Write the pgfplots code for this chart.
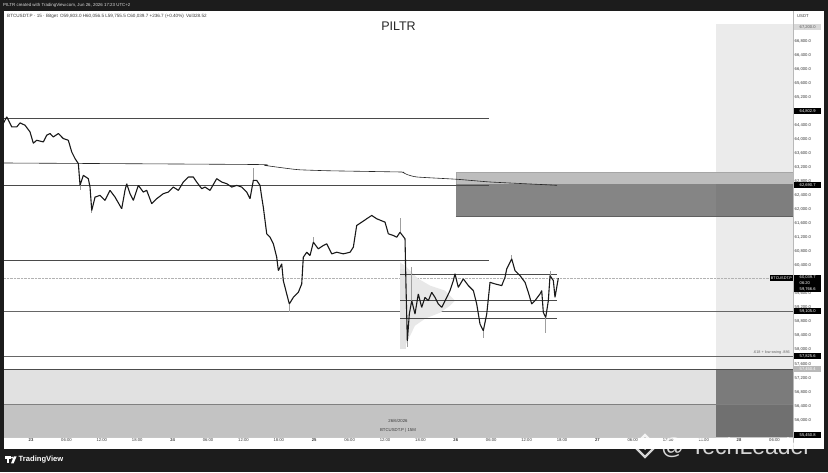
\documentclass[border=0pt]{standalone}
\usepackage{pgfplots}
\pgfplotsset{compat=1.18}
\usepackage{fontspec}
\setmainfont{Liberation Sans}
\definecolor{tvdark}{HTML}{1C1C1C}
\definecolor{tvtext}{HTML}{3A3A3A}
\definecolor{zone}{HTML}{EBEBEB}
\definecolor{boxlight}{HTML}{BDBDBD}
\definecolor{boxdark}{HTML}{858585}
\definecolor{boxdarkR}{HTML}{7E7E7E}
\definecolor{bandlight}{HTML}{E1E1E1}
\definecolor{bandmid}{HTML}{C3C3C3}
\definecolor{banddark1}{HTML}{7B7B7B}
\definecolor{banddark2}{HTML}{707070}
\definecolor{linegray}{HTML}{4A4A4A}
\definecolor{profile}{HTML}{E8E8E8}
\tikzset{
  plab/.style={fill=black, text=white, anchor=west, inner sep=0.8pt, xshift=1pt,
    font=\fontsize{4.1}{5}\selectfont, minimum width=27pt, minimum height=6.2pt, align=left},
}
\begin{document}
\begin{tikzpicture}[x=1pt,y=1pt]
\useasboundingbox (0,0) rectangle (828,472);
\fill[tvdark] (0,0) rectangle (828,472);
\fill[white] (4,23) rectangle (824,461);
\begin{axis}[
  at={(4pt,35pt)}, anchor=south west,
  scale only axis, width=789pt, height=426pt,
  xmin=-4.58, xmax=129.15, ymin=55514, ymax=67655,
  clip=false,
  axis line style={draw=none},
  major tick length=0pt,
  xtick={0,6,...,126},
  xticklabels={\textbf{23},06:00,12:00,18:00,\textbf{24},06:00,12:00,18:00,\textbf{25},06:00,12:00,18:00,\textbf{26},06:00,12:00,18:00,\textbf{27},06:00,12:00,18:00,\textbf{28},06:00},
  xticklabel style={font=\fontsize{4.2}{5}\selectfont, text=tvtext, inner sep=1.6pt},
  ytick={56000,56400,56800,57200,57600,58000,58400,58800,59200,59600,60000,60400,60800,61200,61600,62000,62400,62800,63200,63600,64000,64400,64800,65200,65600,66000,66400,66800},
  yticklabel pos=right,
  scaled y ticks=false,
  /pgf/number format/assume math mode=true,
  yticklabel={\pgfmathprintnumber[assume math mode=true,fixed,fixed zerofill,precision=1,1000 sep={,}]{\tick}},
  yticklabel style={font=\fontsize{4.2}{5}\selectfont, text=tvtext, anchor=west, inner sep=1.5pt},
]
% right light zone
\addplot[fill=zone, draw=none] coordinates {(116.1,57450) (129.15,57450) (129.15,67285) (116.1,67285)} -- cycle;
% upper supply box
\addplot[fill=boxlight, draw=gray!70, line width=0.3pt] coordinates {(72.03,62724) (129.15,62724) (129.15,63075) (72.03,63075)} -- cycle;
\addplot[fill=boxdark, draw=none] coordinates {(72.03,61812) (116.1,61812) (116.1,62724) (72.03,62724)} -- cycle;
\addplot[fill=boxdarkR, draw=none] coordinates {(116.1,61812) (129.15,61812) (129.15,62724) (116.1,62724)} -- cycle;
\addplot[gray!75!black, line width=0.3pt] coordinates {(72.03,61812) (129.15,61812)};
% lower demand bands
\addplot[fill=bandlight, draw=none] coordinates {(-4.58,56450) (116.1,56450) (116.1,57450) (-4.58,57450)} -- cycle;
\addplot[fill=banddark1, draw=none] coordinates {(116.1,56450) (129.15,56450) (129.15,57450) (116.1,57450)} -- cycle;
\addplot[fill=bandmid, draw=none] coordinates {(-4.58,55514) (116.1,55514) (116.1,56450) (-4.58,56450)} -- cycle;
\addplot[fill=banddark2, draw=none] coordinates {(116.1,55514) (129.15,55514) (129.15,56450) (116.1,56450)} -- cycle;
\addplot[gray!60!black, line width=0.5pt] coordinates {(-4.58,57450) (129.15,57450)};
\addplot[gray, line width=0.5pt] coordinates {(-4.58,56450) (129.15,56450)};
% horizontal levels
\addplot[linegray, line width=0.55pt] coordinates {(-4.58,64590) (77.63,64590)};
\addplot[linegray, line width=0.55pt] coordinates {(-4.58,62690) (77.63,62690)};
\addplot[linegray, line width=0.55pt] coordinates {(-4.58,60540) (77.63,60540)};
\addplot[gray!60, line width=0.4pt, densely dotted] coordinates {(-4.58,60039.7) (129.15,60039.7)};
\addplot[gray!80!black, line width=0.5pt] coordinates {(-4.58,59105) (129.15,59105)};
\addplot[gray!80!black, line width=0.5pt] coordinates {(-4.58,57825.6) (129.15,57825.6)};
% volume profile
\addplot[fill=profile, draw=none] coordinates {(62.54,60486) (63.39,60400) (64.24,60257) (65.59,60029) (67.63,59829) (70.17,59686) (71.86,59400) (71.02,59257) (69.32,59057) (66.78,58886) (65.08,58686) (64.24,58400) (63.39,58114) (62.54,58029)} -- cycle;
\addplot[fill=gray!22, draw=none] coordinates {(62.54,60300) (63.6,60300) (63.6,58029) (62.54,58029)} -- cycle;
% value area lines
\addplot[linegray, line width=0.55pt] coordinates {(62.54,60163) (89.15,60163)};
\addplot[linegray, line width=0.55pt] coordinates {(62.54,59414) (89.15,59414)};
\addplot[linegray, line width=0.55pt] coordinates {(62.54,58900) (89.15,58900)};
% VWAP-like curve
\addplot[black!85, line width=0.6pt, smooth, tension=0.3] coordinates {(-4.58,63323) (37.97,63280) (39.66,63252) (42.2,63195) (43.9,63158) (45.59,63129) (50.68,63101) (62.54,63067) (63.05,63052) (63.73,62995) (65.42,62924) (72.2,62859) (77.8,62782) (85.76,62716) (89.15,62687)};
% wicks
\addplot[gray!75, line width=0.5pt, unbounded coords=jump] coordinates {
(8.31,62686) (8.31,62554) (8.31,nan)
(10.29,61971) (10.29,61898) (10.29,nan)
(37.68,62829) (37.68,63172) (37.68,nan)
(43.78,59306) (43.78,59085) (43.78,nan)
(47.85,61066) (47.85,61222) (47.85,nan)
(62.54,61350) (62.54,61755) (62.54,nan)
(63.78,58257) (63.78,58088) (63.78,nan)
(64.53,59400) (64.53,60368) (64.53,nan)
(76.66,58543) (76.66,58336) (76.66,nan)
(81.47,60591) (81.47,60701) (81.47,nan)
(87.24,58923) (87.24,58478) (87.24,nan)
(87.97,60114) (87.97,60231)};
% price path (15m candles approximated)
\addplot[black!90, line width=1.1pt, line join=bevel] coordinates {
(-4.69,64449) (-4.12,64637) (-3.27,64351) (-2.42,64351) (-1.86,64466) (-1.02,64400) (-0.17,64209) (0.39,63886) (0.97,63971) (2.08,63923) (2.66,64114) (3.22,64163) (3.78,64066) (4.63,64163) (5.47,64020) (6.32,63971) (6.90,63637) (7.46,63449) (8.02,63306) (8.31,62686) (8.86,62971) (9.71,62877) (10.0,62637) (10.29,61971) (10.85,62351) (11.69,62400) (12.54,62257) (13.39,62543) (14.24,62351) (15.37,62020) (15.93,62543) (16.22,62734) (16.78,62449) (17.34,62257) (18.19,62686) (19.03,62494) (19.61,62543) (20.46,62163) (21.31,62306) (22.42,62449) (23.27,62494) (24.12,62637) (24.97,62543) (25.81,62780) (26.66,62923) (27.51,62923) (28.08,62780) (28.93,62591) (29.49,62637) (30.34,62543) (31.47,62877) (32.32,62780) (33.17,62734) (34.02,62637) (34.86,62686) (35.71,62637) (36.56,62494) (37.12,62306) (37.68,62829) (38.25,62829) (38.81,62686) (39.10,62351) (39.37,62066) (39.66,61686) (39.95,61306) (40.51,61209) (41.07,61020) (41.64,60637) (41.92,60257) (42.49,60449) (42.76,59971) (43.34,59591) (43.78,59306) (44.46,59494) (45.31,59637) (45.88,59877) (46.15,60637) (46.73,60780) (47.29,60686) (47.85,61066) (48.69,60877) (49.54,60971) (50.12,61020) (50.97,60734) (51.81,60780) (52.93,60734) (54.07,60780) (54.63,60923) (55.20,61543) (56.05,61637) (56.90,61734) (57.75,61829) (58.59,61734) (60.0,61637) (60.56,61306) (61.41,61257) (62.0,61209) (62.54,61350) (63.39,61163) (63.56,59780) (63.78,58257) (64.12,59020) (64.53,59400) (65.08,59020) (65.64,59591) (66.22,59209) (66.78,59494) (67.34,59400) (67.92,59637) (68.47,59494) (69.03,59306) (69.61,59209) (70.46,59494) (71.02,59686) (71.58,59971) (71.86,60163) (72.42,59780) (73.27,60020) (74.12,59829) (74.97,59686) (75.54,59306) (76.10,58734) (76.66,58543) (77.24,59020) (77.80,59923) (78.64,59877) (79.78,59829) (80.34,60066) (80.63,60306) (81.47,60591) (82.03,60257) (82.88,60114) (83.73,59923) (84.29,59637) (84.86,59306) (85.42,59400) (86.27,59591) (86.56,59686) (86.83,59066) (87.24,58923) (87.68,59400) (87.97,60114) (88.53,59971) (88.81,59494) (89.37,60040)};
% annotations
\node[anchor=south east, inner sep=1pt, text=gray!80!black, font=\fontsize{3.8}{4}\selectfont] at (axis cs:128.8,57825.6) {.618 + low swing .886};
% price labels
\node[plab, fill=gray!30, text=gray!70!black] at (axis cs:129.15,67200) {67,200.0};
\node[plab] at (axis cs:129.15,64802.9) {64,802.9};
\node[plab] at (axis cs:129.15,62690.7) {62,690.7};
\node[plab, font=\fontsize{4.1}{6}\selectfont] at (axis cs:129.15,59880) {60,039.7\\06:20\\59,766.6};
\node[fill=black, text=white, anchor=east, inner sep=0.8pt, font=\fontsize{3.8}{5}\selectfont, minimum height=6.2pt] at (axis cs:129.15,60039.7) {BTCUSDT.P};
\node[plab] at (axis cs:129.15,59105) {59,105.0};
\node[plab] at (axis cs:129.15,57825.6) {57,825.6};
\node[plab, fill=gray!55, text=white] at (axis cs:129.15,57450.4) {57,450.4};
\node[plab] at (axis cs:129.15,55560) {55,450.8};
\end{axis}
% separators
\draw[gray!55, line width=0.4pt] (793,23) -- (793,461);
\draw[gray!45, line width=0.4pt] (4,35) -- (793,35);
% header texts
\node[anchor=west, text=white!85!black, inner sep=0pt, font=\fontsize{4.4}{5}\selectfont] at (3,466.5) {PILTR created with TradingView.com, Jun 26, 2026 17:23 UTC+2};
\node[anchor=west, text=tvtext, inner sep=0pt, font=\fontsize{4.6}{5}\selectfont] at (7,456) {BTCUSDT.P · 15 · Bitget\enspace O59,803.0 H60,056.5 L59,755.5 C60,039.7 +236.7 (+0.40\%)\enspace Vol328.52};
\node[anchor=west, text=tvtext, inner sep=0pt, font=\fontsize{4.2}{5}\selectfont] at (797,456) {USDT};
\node[text=black!85, inner sep=0pt, font=\fontsize{12.5}{14}\selectfont] at (398.5,445.3) {PILTR};
\node[text=tvtext, inner sep=0pt, font=\fontsize{4.3}{5}\selectfont] at (398,51) {26/6/2026};
\node[text=tvtext, inner sep=0pt, font=\fontsize{4.3}{5}\selectfont] at (398,42) {BTCUSDT.P | 15M};
% TradingView logo
\fill[white] (5,13.2) rectangle (10.5,15.6);
\fill[white] (7.2,8.6) rectangle (9.4,15.6);
\fill[white] (12.2,14.4) circle (1.15);
\fill[white] (13.8,15.6) -- (16.6,15.6) -- (13.6,8.6) -- (11.0,8.6) -- cycle;
\node[anchor=west, text=white, inner sep=0pt, font=\bfseries\fontsize{7.6}{8}\selectfont] at (18.5,12) {TradingView};
% watermark
\begin{scope}[opacity=0.82]
\draw[white, line width=2.2pt, line join=miter] (645,37) -- (656,26) -- (645,15) -- (634,26) -- cycle;
\fill[white] (645,30) -- (649,26) -- (645,22) -- (641,26) -- cycle;
\node[anchor=base west, text=white, inner sep=0pt, font=\fontsize{23}{26}\selectfont] at (661,17.5) {@ TechLeader};
\end{scope}
\end{tikzpicture}
\end{document}
